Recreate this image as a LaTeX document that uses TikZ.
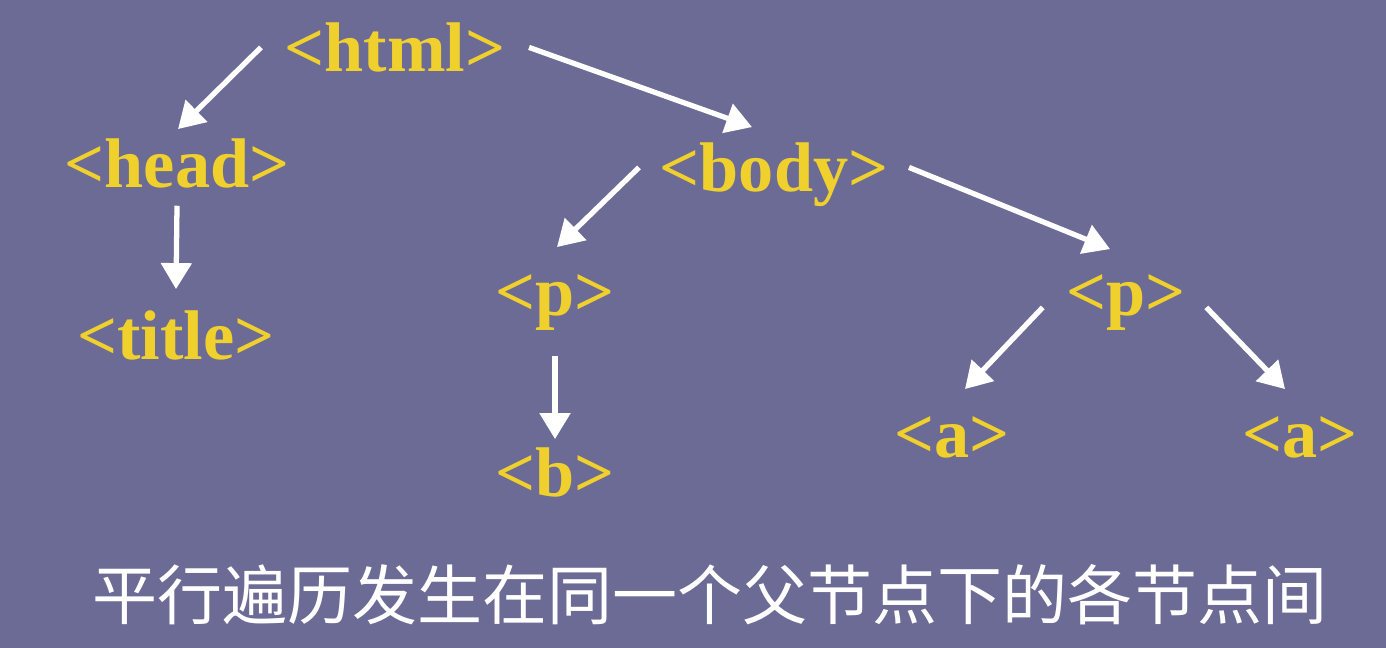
\documentclass[tikz,border=0pt]{standalone}
\usepackage{fontspec}
\setmainfont{Liberation Serif}
\newfontfamily\cjk{Noto Sans CJK SC}
\usetikzlibrary{arrows.meta}
\definecolor{slate}{RGB}{108,107,150}
\definecolor{tagyellow}{RGB}{240,208,44}
\begin{document}
\begin{tikzpicture}[
    tag/.style  = {anchor=base, inner sep=0pt, text=tagyellow,
                   font=\fontsize{20}{24}\selectfont\bfseries,
                   text height=14pt, text depth=4pt},
    link/.style = {draw=white, line width=1.5pt,
                   -{Triangle[length=0.26cm,width=0.3cm]}}
  ]
        \fill[slate] (0,-6.48) rectangle (13.86,0);
        \useasboundingbox (0,-6.48) rectangle (13.86,0);
        \node[tag] (html)  at ( 3.95,-0.72) {<html>};
        \node[tag] (head)  at ( 1.77,-1.88) {<head>};
        \node[tag] (body)  at ( 7.74,-1.92) {<body>};
        \node[tag] (title) at ( 1.76,-3.60) {<title>};
        \node[tag] (p1)    at ( 5.55,-3.16) {<p>};
        \node[tag] (p2)    at (11.26,-3.16) {<p>};
        \node[tag] (b)     at ( 5.55,-4.97) {<b>};
        \node[tag] (a1)    at ( 9.52,-4.58) {<a>};
        \node[tag] (a2)    at (13.00,-4.58) {<a>};
        \draw[link] ([shift={(-0.23,0.07)}]html.west) -- ([shift={(0.01,0.09)}]head.north);
        \draw[link] ([shift={(0.23,0.07)}]html.east)  -- ([shift={(-0.22,0.15)}]body.north);
        \draw[link] ([yshift=-0.03cm]head.south)      -- ([yshift=0.21cm]title.north);
        \draw[link] ([shift={(-0.20,0.07)}]body.west) -- ([shift={(0.02,0.19)}]p1.north);
        \draw[link] ([shift={(0.20,0.07)}]body.east)  -- ([shift={(-0.16,0.17)}]p2.north);
        \draw[link] ([yshift=-0.25cm]p1.south)        -- ([yshift=0.08cm]b.north);
        \draw[link] ([shift={(-0.23,-0.09)}]p2.west)  -- ([shift={(0.13,0.19)}]a1.north);
        \draw[link] ([shift={(0.20,-0.09)}]p2.east)   -- ([shift={(-0.15,0.19)}]a2.north);
        \node[text=white, font=\cjk\fontsize{18.5}{22}\selectfont] (note) at (7.10,-5.95)
          {平行遍历发生在同一个父节点下的各节点间};
\end{tikzpicture}
\end{document}
